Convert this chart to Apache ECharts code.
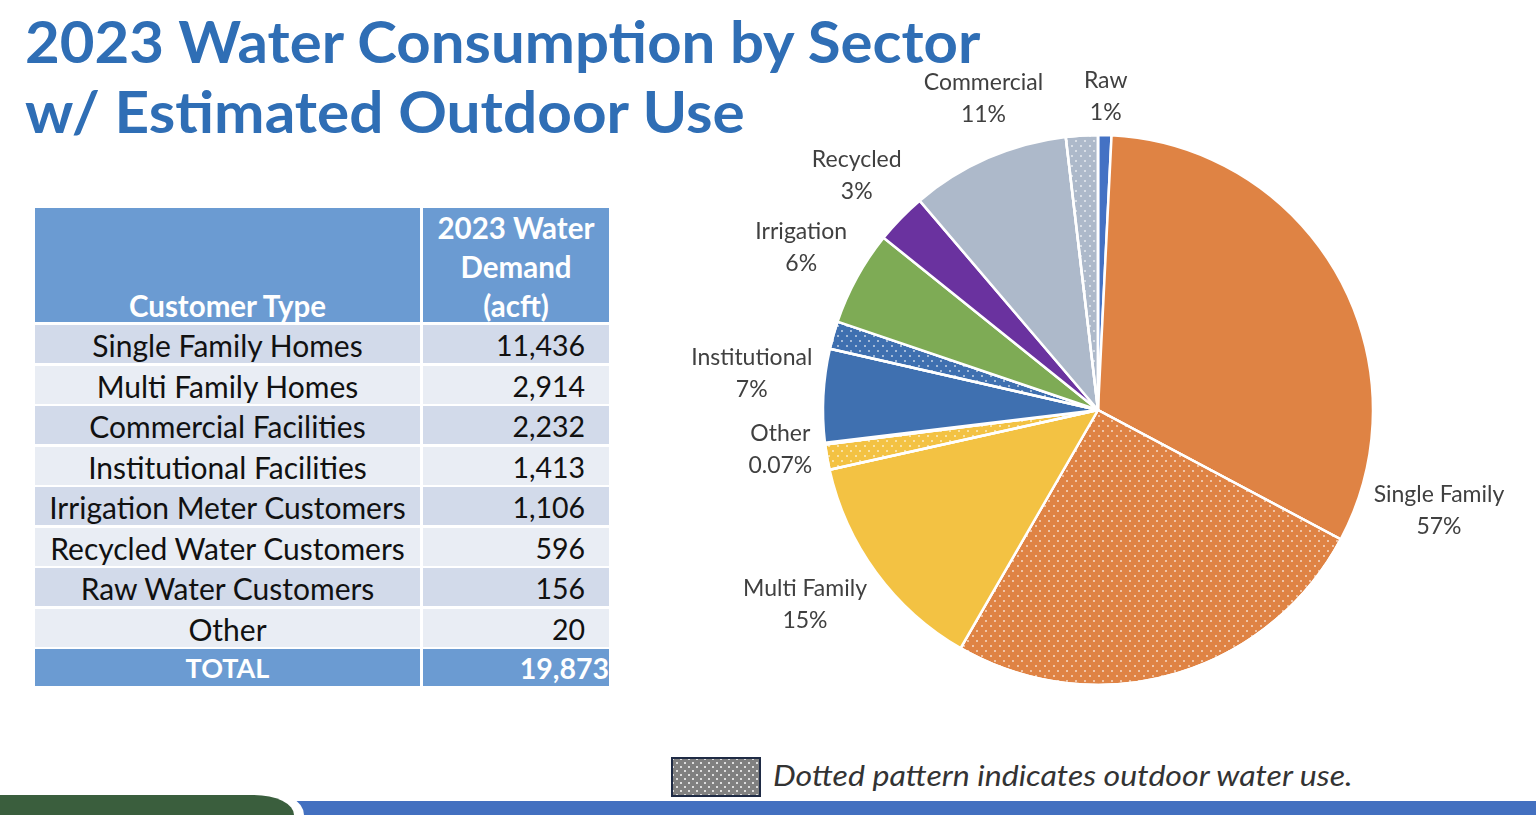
<!DOCTYPE html>
<html>
<head>
<meta charset="utf-8">
<script src="https://cdn.jsdelivr.net/npm/echarts@6/dist/echarts.min.js"></script>
<style>
    html, body { margin: 0; padding: 0; background: #fff; }
    body { width: 1536px; height: 815px; position: relative; overflow: hidden; font-family: Lato, 'Noto Sans', sans-serif; }
    #chart { position: absolute; left: 0; top: 0; width: 1536px; height: 815px; z-index: 2; }
    .title { position: absolute; left: 25px; color: #2F6EB5; font-weight: bold; font-size: 58px; line-height: 1; white-space: nowrap; transform-origin: 0 0; z-index: 3; }
    .cell { position: absolute; box-sizing: border-box; white-space: nowrap; overflow: hidden; font-size: 30px; color: #111; }
    .num { font-size: 28.5px; }
    .head { background: #6B9BD2; color: #fff; font-weight: bold; text-align: center; font-size: 29.5px; }
    #note { position: absolute; left: 773px; top: 758px; font-style: italic; font-size: 28px; color: #333; white-space: nowrap; transform-origin: 0 0; }
    #noteBox { position: absolute; left: 671px; top: 757px; width: 86px; height: 36px; border: 2px solid #1F2B45;
        background-color: #808080;
        background-image: radial-gradient(circle, rgba(255,255,255,0.75) 0.7px, transparent 1.1px),
                          radial-gradient(circle, rgba(255,255,255,0.75) 0.7px, transparent 1.1px);
        background-size: 8px 8px; background-position: 0 0, 4px 4px; }
    #bandBlue { position: absolute; left: 270px; top: 801px; width: 1266px; height: 14px; background: #4370C0; }
    #bandCut { position: absolute; left: 0; top: 789px; width: 304px; height: 26px; background: #fff; border-top-right-radius: 46px 26px; }
    #bandGreen { position: absolute; left: 0; top: 795px; width: 294px; height: 20px; background: #3A5E3D; border-top-right-radius: 40px 20px; }
</style>
</head>
<body>
<div class="title" id="title1" data-w="955" style="top:12px">2023 Water Consumption by Sector</div>
<div class="title" id="title2" data-w="720" style="top:82px">w/ Estimated Outdoor Use</div>
<div id="table"></div>
<div id="noteBox"></div>
<div id="note" data-w="579">Dotted pattern indicates outdoor water use.</div>
<div id="bandBlue"></div>
<div id="bandCut"></div>
<div id="bandGreen"></div>
<div id="chart"></div>
<script>
// table values
const customerTypes = ['Single Family Homes', 'Multi Family Homes', 'Commercial Facilities', 'Institutional Facilities',
    'Irrigation Meter Customers', 'Recycled Water Customers', 'Raw Water Customers', 'Other'];
const demandAcft = [11436, 2914, 2232, 1413, 1106, 596, 156, 20];
const totalLabel = 'TOTAL';
const totalAcft = 19873;

// pie sectors, clockwise from 12 o'clock
const sectorNames = ['Raw', 'Single Family', 'Multi Family', 'Other', 'Institutional', 'Irrigation', 'Recycled', 'Commercial'];
const sectorPercent = ['1%', '57%', '15%', '0.07%', '7%', '6%', '3%', '11%'];
const indoorUse = [156, 6360, 2620, 20, 1090, 1106, 596, 1860];
const outdoorUse = [0, 5076, 294, 0, 323, 0, 0, 372];
const sectorColors = ['#4472C4', '#DF8344', '#F3C243', '#A5A5A5', '#3F70B0', '#7EAB55', '#6A329F', '#ADB9CA'];

const sectorTotals = indoorUse.map((v, i) => v + outdoorUse[i]);
const pieTotal = sectorTotals.reduce((a, b) => a + b, 0);
const pieCenter = [1098, 410];
const pieRadius = 275;
const labelGap = 10;

// ---- table ----
const table = document.getElementById('table');
const col1 = { left: 35, width: 385 };
const col2 = { left: 423, width: 186 };

function addCell(html, col, top, height, cls, style) {
    const d = document.createElement('div');
    d.className = 'cell ' + (cls || '');
    d.innerHTML = html;
    d.style.left = col.left + 'px';
    d.style.width = col.width + 'px';
    d.style.top = top + 'px';
    d.style.height = height + 'px';
    Object.assign(d.style, style || {});
    table.appendChild(d);
}

addCell('Customer Type', col1, 208, 114, 'head', { lineHeight: '39px', paddingTop: '78px' });
addCell('2023 Water<br>Demand<br>(acft)', col2, 208, 114, 'head', { lineHeight: '39px', paddingTop: '0px' });

const fmt = (n) => n.toLocaleString('en-US');
customerTypes.forEach((name, i) => {
    const top = 325 + i * 40.5;
    const bg = i % 2 === 0 ? '#D2DAEA' : '#E9EDF4';
    addCell(name, col1, top, 38, '', { background: bg, textAlign: 'center', lineHeight: '40px' });
    addCell(fmt(demandAcft[i]), col2, top, 38, 'num', { background: bg, textAlign: 'right', lineHeight: '40px', paddingRight: '24px' });
});
const totalTop = 325 + customerTypes.length * 40.5;
addCell(totalLabel, col1, totalTop, 37, 'head', { lineHeight: '38px', fontSize: '27px' });
addCell(fmt(totalAcft), col2, totalTop, 37, 'head', { lineHeight: '38px', textAlign: 'right', paddingRight: '0px', fontSize: '28.5px' });

// stretch title / note text to the reference width
['title1', 'title2', 'note'].forEach((id) => {
    const el = document.getElementById(id);
    el.style.display = 'inline-block';
    const w = el.offsetWidth;
    el.style.transform = 'scaleX(' + (parseFloat(el.dataset.w) / w) + ')';
});

// ---- pie ----
const dotted = {
    symbol: 'circle',
    symbolSize: 1,
    color: 'rgba(255,255,255,0.7)',
    dashArrayX: [[1.6, 6.4], [0, 4, 1.6, 2.4]],
    dashArrayY: [1.6, 2.4]
};

let slices = [];
sectorNames.forEach((name, i) => {
    slices.push({ name: name + ' indoor', value: indoorUse[i], itemStyle: { color: sectorColors[i] } });
    if (outdoorUse[i] > 0) {
        slices.push({ name: name + ' outdoor', value: outdoorUse[i], itemStyle: { color: sectorColors[i], decal: dotted } });
    }
});

const chart = echarts.init(document.getElementById('chart'));

let option = {
    animation: false,
    series: [
        {
            type: 'pie',
            center: pieCenter,
            radius: pieRadius,
            startAngle: 90,
            clockwise: true,
            silent: true,
            label: { show: false },
            labelLine: { show: false },
            itemStyle: { borderColor: '#fff', borderWidth: 2.5 },
            data: slices
        },
        {
            type: 'pie',
            center: pieCenter,
            radius: pieRadius,
            startAngle: 90,
            clockwise: true,
            silent: true,
            avoidLabelOverlap: false,
            itemStyle: { color: 'transparent', borderWidth: 0 },
            label: {
                show: true,
                position: 'outside',
                formatter: (p) => '{t|' + p.name + '}\n{t|' + sectorPercent[p.dataIndex] + '}',
                rich: {
                    t: { align: 'center', fontFamily: 'Lato', fontSize: 23, lineHeight: 32, color: '#404040' }
                }
            },
            labelLine: { show: false },
            labelLayout: (params) => {
                const i = params.dataIndex;
                const before = sectorTotals.slice(0, i).reduce((a, b) => a + b, 0);
                const mid = (before + sectorTotals[i] / 2) / pieTotal * 2 * Math.PI;
                const ux = Math.sin(mid), uy = -Math.cos(mid);
                const w = params.labelRect.width, h = params.labelRect.height;
                const d = pieRadius + labelGap + Math.abs(ux) * w / 2 + Math.abs(uy) * h / 2;
                return {
                    x: pieCenter[0] + ux * d,
                    y: pieCenter[1] + uy * d,
                    align: 'center',
                    verticalAlign: 'middle'
                };
            },
            data: sectorNames.map((name, i) => ({ name: name, value: sectorTotals[i] }))
        }
    ]
};

chart.setOption(option);
</script>
</body>
</html>
